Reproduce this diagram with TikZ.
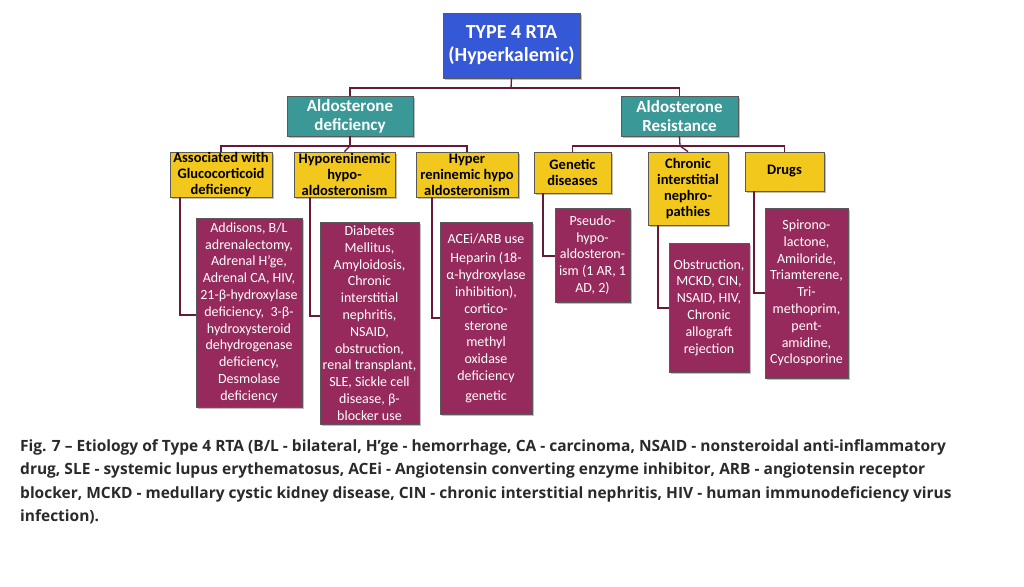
\documentclass[tikz,border=0pt]{standalone}
\usepackage{fontspec}
\setmainfont{Carlito}
\newfontfamily\capfont{Open Sans}
\usetikzlibrary{shadows}
\definecolor{topblue}{HTML}{3558D6}
\definecolor{tealc}{HTML}{3A9896}
\definecolor{yel}{HTML}{F2C81C}
\definecolor{mag}{HTML}{972A5C}
\definecolor{conn}{HTML}{6A1838}
\definecolor{capc}{HTML}{2A2A2A}
\begin{document}
\begin{tikzpicture}[x=1pt,y=-1pt,
  box/.style={draw=gray!70!black,line width=0.8pt,inner sep=0pt,align=center,drop shadow={shadow xshift=2pt,shadow yshift=-2pt,opacity=0.5}},
  topb/.style={box,fill=topblue,text=white,font=\bfseries\fontsize{20}{23}\selectfont},
  tb/.style={box,fill=tealc,text=white,font=\bfseries\fontsize{17}{19}\selectfont},
  yb/.style={box,fill=yel,text=black,font=\bfseries\fontsize{14.5}{16}\selectfont},
  mb/.style={box,fill=mag,text=white,font=\fontsize{14}{16.8}\selectfont},
  ln/.style={draw=conn,line width=1.3pt}]
\useasboundingbox (0,0) rectangle (1024,586);
\fill[white] (0,0) rectangle (1024,586);
\newcommand{\bx}[7]{\node[#1,minimum width=#4-#2,minimum height=#5-#3] (#6) at ({(#2+#4)/2},{(#3+#5)/2}) {#7};}
\bx{topb}{443}{13}{580}{78}{top}{TYPE 4 RTA\\(Hyperkalemic)}
\bx{tb}{287}{96}{413}{136}{def}{Aldosterone\\deficiency}
\bx{tb}{621}{96}{738}{136}{res}{Aldosterone\\Resistance}
\bx{yb}{170}{152}{272}{197}{ya}{Associated with\\Glucocorticoid\\deficiency}
\bx{yb}{294}{152}{395}{197}{yb}{Hyporeninemic\\hypo-\\aldosteronism}
\bx{yb}{416}{152}{518}{197}{yc}{Hyper\\reninemic hypo\\aldosteronism}
\bx{yb}{534}{152}{611}{193}{yd}{Genetic\\diseases}
\bx{yb}{648}{152}{728}{225}{ye}{Chronic\\interstitial\\nephro-\\pathies}
\bx{yb}{745}{152}{824}{191}{yf}{Drugs}
\bx{mb}{196}{218}{302}{407}{ma}{Addisons, B/L\\adrenalectomy,\\Adrenal H’ge,\\Adrenal CA, HIV,\\21-β-hydroxylase\\deficiency,\ \ 3-β-\\hydroxysteroid\\dehydrogenase\\deficiency,\\Desmolase\\deficiency}
\bx{mb}{320}{222}{419}{424}{mbx}{Diabetes\\Mellitus,\\Amyloidosis,\\Chronic\\interstitial\\nephritis,\\NSAID,\\obstruction,\\renal transplant,\\SLE, Sickle cell\\disease, β-\\blocker use}
\bx{mb}{440}{222}{532}{414}{mc}{ACEi/ARB use\\[3pt]Heparin (18-\\α-hydroxylase\\inhibition),\\cortico-\\sterone\\methyl\\oxidase\\deficiency\\[3pt]genetic}
\bx{mb}{555}{208}{630}{302}{md}{Pseudo-\\hypo-\\aldosteron-\\ism (1 AR, 1\\AD, 2)}
\bx{mb}{669}{243}{749}{372}{me}{Obstruction,\\MCKD, CIN,\\NSAID, HIV,\\Chronic\\allograft\\rejection}
\bx{mb}{765}{208}{848}{378}{mf}{Spirono-\\lactone,\\Amiloride,\\Triamterene,\\Tri-\\methoprim,\\pent-\\amidine,\\Cyclosporine}
% connectors
\draw[ln] (top.south) -- (511,88) coordinate (t1);
\draw[ln] (def.north) |- (t1) -| (res.north);
\draw[ln] (def.south) -- (350,146) coordinate (d1);
\draw[ln] (ya.north) |- (d1) -| (yc.north);
\draw[ln] (d1) -- (yb.north);
\draw[ln] (res.south) -- (680,146) coordinate (r1);
\draw[ln] (yd.north) |- (r1) -| (yf.north);
\draw[ln] (r1) -- (ye.north);
\draw[ln] (ya.south -| 180,0) |- (ma.west |- 0,315);
\draw[ln] (yb.south -| 310,0) |- (mbx.west |- 0,316);
\draw[ln] (yc.south -| 432,0) |- (mc.west |- 0,318);
\draw[ln] (yd.south -| 543,0) |- (md.west |- 0,256);
\draw[ln] (ye.south -| 658,0) |- (me.west |- 0,308);
\draw[ln] (yf.south -| 754,0) |- (mf.west |- 0,293);
\node[anchor=north west,align=left,text=capc,font=\capfont\bfseries\fontsize{15.5}{23.5}\selectfont,inner sep=0] (cap) at (20,439)
{Fig. 7 – Etiology of Type 4 RTA (B/L - bilateral, H’ge - hemorrhage, CA - carcinoma, NSAID - nonsteroidal anti-inflammatory\\
drug, SLE - systemic lupus erythematosus, ACEi - Angiotensin converting enzyme inhibitor, ARB - angiotensin receptor\\
blocker, MCKD - medullary cystic kidney disease, CIN - chronic interstitial nephritis, HIV - human immunodeficiency virus\\
infection).};
\end{tikzpicture}
\end{document}
